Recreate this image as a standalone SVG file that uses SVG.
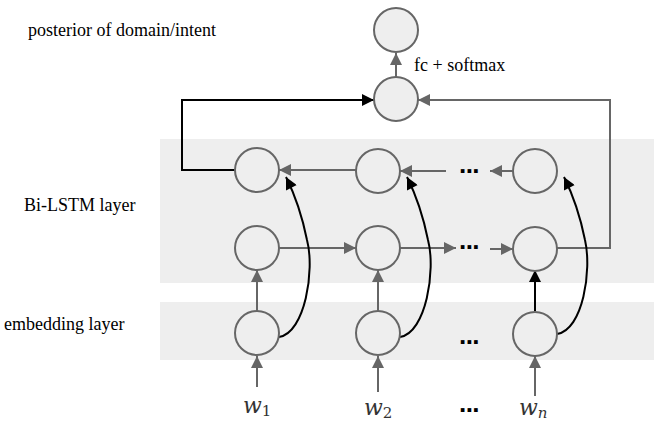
<svg xmlns="http://www.w3.org/2000/svg" width="666" height="433" viewBox="0 0 666 433">
<defs>
<style>
.n{fill:#eee;stroke:#666;stroke-width:2}
.g{stroke:#666;stroke-width:2;fill:none}
.b{stroke:#000;stroke-width:2;fill:none}
.t{font-family:"Liberation Serif",serif;font-size:18px;fill:#000}
.w{font-family:"DejaVu Serif",serif;font-style:italic;font-size:22px;fill:#333}
.s{font-family:"DejaVu Serif",serif;font-style:normal;font-size:15px;fill:#333}
.s2{font-family:"DejaVu Serif",serif;font-style:italic;font-size:15px;fill:#333}
.d{font-family:"Liberation Sans",sans-serif;font-size:26px;font-weight:bold;fill:#000;letter-spacing:-2px}
</style>
<marker id="ag" viewBox="0 0 10 10" refX="10" refY="5" markerWidth="7" markerHeight="6" orient="auto" markerUnits="strokeWidth"><path d="M0,0L10,5L0,10z" fill="#666"/></marker>
<marker id="ab" viewBox="0 0 10 10" refX="10" refY="5" markerWidth="7" markerHeight="6" orient="auto" markerUnits="strokeWidth"><path d="M0,0L10,5L0,10z" fill="#000"/></marker>
</defs>
<rect x="160" y="139" width="494" height="144" fill="#eee"/>
<rect x="160" y="302" width="494" height="58" fill="#eee"/>
<text class="t" x="28" y="36">posterior of domain/intent</text>
<text class="t" x="414" y="71">fc + softmax</text>
<text class="t" x="24" y="211">Bi-LSTM layer</text>
<text class="t" x="4" y="330">embedding layer</text>
<g id="connectors">
<path class="g" d="M396,78V53" marker-end="url(#ag)"/>
<path class="b" d="M236,170H182V100H374" marker-end="url(#ab)"/>
<path class="g" d="M557,248H610V100H418" marker-end="url(#ag)"/>
<path class="g" d="M356,170H279" marker-end="url(#ag)"/>
<path class="g" d="M446,171H400" marker-end="url(#ag)"/>
<path class="g" d="M513,171H490" marker-end="url(#ag)"/>
<path class="g" d="M279,248H356" marker-end="url(#ag)"/>
<path class="g" d="M400,248H456" marker-end="url(#ag)"/>
<path class="g" d="M490,249H513" marker-end="url(#ag)"/>
<path class="g" d="M257,311V270" marker-end="url(#ag)"/>
<path class="g" d="M378,311V270" marker-end="url(#ag)"/>
<path class="b" d="M535,311V270" marker-end="url(#ab)"/>
<path class="g" d="M257,387V356" marker-end="url(#ag)"/>
<path class="g" d="M378,392V356" marker-end="url(#ag)"/>
<path class="g" d="M535,396V356" marker-end="url(#ag)"/>
<path class="b" d="M279,337C305,333 315,270 307,240C302,215 295,195 286,177" marker-end="url(#ab)"/>
<path class="b" d="M400,337C426,333 436,270 428,240C423,215 416,195 407,177" marker-end="url(#ab)"/>
<path class="b" d="M557,334C583,330 592,270 585,240C580,215 573,195 564,177" marker-end="url(#ab)"/>
</g>
<g id="out"><circle class="n" cx="396" cy="30" r="22"/></g>
<g id="fc"><circle class="n" cx="396" cy="99" r="22"/></g>
<g id="b1"><circle class="n" cx="257" cy="170" r="22"/></g>
<g id="b2"><circle class="n" cx="378" cy="171" r="22"/></g>
<g id="b3"><circle class="n" cx="535" cy="171" r="22"/></g>
<g id="f1"><circle class="n" cx="257" cy="248" r="22"/></g>
<g id="f2"><circle class="n" cx="378" cy="248" r="22"/></g>
<g id="f3"><circle class="n" cx="535" cy="249" r="22"/></g>
<g id="e1"><circle class="n" cx="257" cy="333" r="22"/></g>
<g id="e2"><circle class="n" cx="378" cy="333" r="22"/></g>
<g id="e3"><circle class="n" cx="535" cy="334" r="22"/></g>
<text class="d" x="459" y="180">···</text>
<text class="d" x="459" y="256">···</text>
<text class="d" x="459" y="351">···</text>
<text class="d" x="459" y="419">···</text>
<text class="w" x="243" y="413">w<tspan class="s" dy="3">1</tspan></text>
<text class="w" x="364" y="415">w<tspan class="s" dy="3">2</tspan></text>
<text class="w" x="519" y="415">w<tspan class="s2" dy="3">n</tspan></text>
</svg>
